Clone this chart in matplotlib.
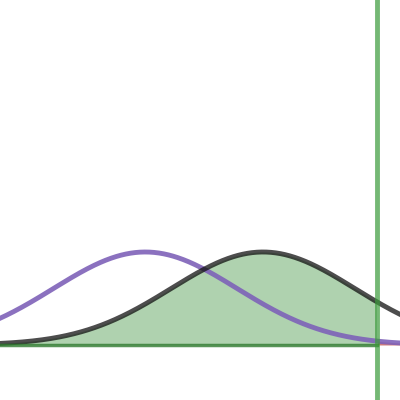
import numpy as np
import matplotlib
matplotlib.use("Agg")
import matplotlib.pyplot as plt

mu_null = 0.0
mu_alt = 1.28
sigma = 1.0
threshold = 2.52

x = np.linspace(-1.6, 2.8, 600)
def pdf(x, m): return np.exp(-(x-m)**2/(2*sigma**2))/(sigma*np.sqrt(2*np.pi))

fig = plt.figure(figsize=(4, 4), dpi=100)
ax = fig.add_axes([0, 0, 1, 1])
ax.set_xlim(-1.58, 2.77)
ax.set_ylim(-0.236, 1.48)
ax.axis('off')

xm = x[x <= threshold]
ax.fill_between(xm, 0, pdf(xm, mu_alt), color='#2e8b2e', alpha=0.38, lw=0)
xr = x[x >= threshold]
ax.fill_between(xr, 0, pdf(xr, mu_null), color='#b22222', alpha=0.6, lw=0)
ax.plot(x, pdf(x, mu_null), color='#7e62b8', lw=3.5, alpha=0.9)
ax.plot(x, pdf(x, mu_alt), color='#111111', lw=3.5, alpha=0.75)
ax.plot([x[0], threshold], [0, 0], color='#2e7a2e', lw=2.5, alpha=0.8)
ax.axvline(threshold, color='#3a9a3a', lw=3.5, alpha=0.7)

fig.savefig('out.png', dpi=100)
